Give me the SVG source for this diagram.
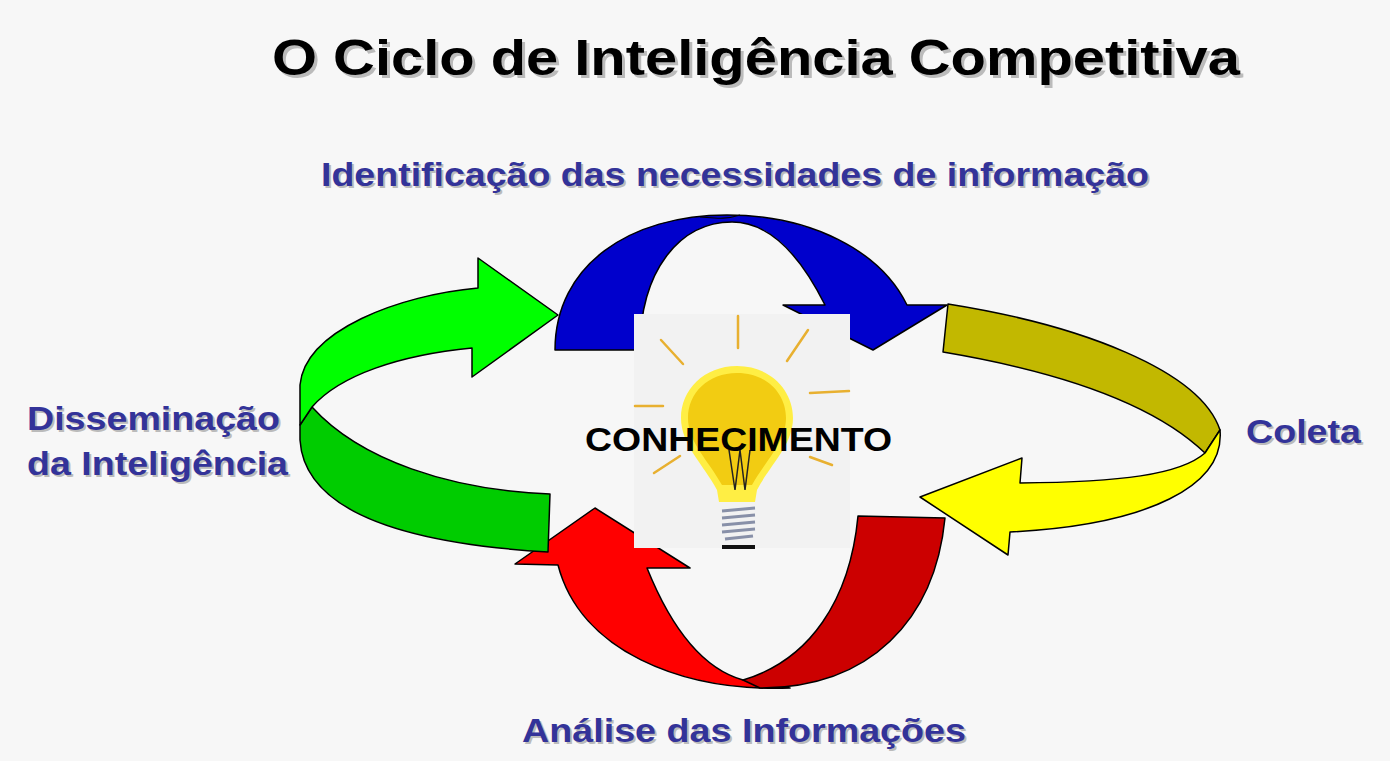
<svg xmlns="http://www.w3.org/2000/svg" width="1390" height="761" viewBox="0 0 1390 761">
<defs>
<style>
.t{font-family:"Liberation Sans",Arial,sans-serif;font-weight:bold}
.lab{fill:#333399;font-size:34px}
.sh{fill:#bbbbbb}
.ar{stroke:#000;stroke-width:1.5;stroke-linejoin:round}
.ray{stroke:#E8B030;stroke-width:2.5;stroke-linecap:round}
</style>
</defs>
<rect width="1390" height="761" fill="#F7F7F7"/>
<g id="title">
<text class="t sh" x="275" y="78" font-size="50" textLength="968" lengthAdjust="spacingAndGlyphs">O Ciclo de Inteligência Competitiva</text>
<text class="t" x="272" y="75" font-size="50" textLength="968" lengthAdjust="spacingAndGlyphs">O Ciclo de Inteligência Competitiva</text>
</g>
<g id="connectors">
<g id="blue">
<path class="ar" fill="#0000CC" d="M555,350 C555,265 630,215 727,215 C810,215 880,250 907,305 L947,305 L873,350 L783,305 L825,305 C800,255 770,222 732,222 C680,222 640,270 640,350 Z"/>
<path d="M700,217 C715,218 725,220 740,215" fill="none" stroke="#000" stroke-width="1.2"/>
</g>
<g id="olive-yellow">
<path class="ar" fill="#C2B800" d="M948,304 C1080,325 1200,370 1220,430 L1205,453 C1150,400 1050,370 943,352 Z"/>
<path class="ar" fill="#FFFF00" d="M1205,453 L1220,430 C1225,485 1150,525 1010,532 L1008,555 L920,497 L1022,458 L1020,483 C1120,482 1180,475 1205,453 Z"/>
</g>
<g id="red">
<path class="ar" fill="#FF0000" d="M558,565 L515,564 L595,508 L690,568 L647,568 C670,625 700,668 743,680 L790,688 C680,692 580,650 558,565 Z"/>
<path class="ar" fill="#CC0000" d="M858,516 L945,518 C935,620 870,688 760,688 L743,680 C810,660 850,600 858,516 Z"/>
</g>
<g id="green">
<path class="ar" fill="#00CC00" d="M312,407 C360,460 450,490 550,494 L548,552 C430,545 305,520 300,440 L300,425 Z"/>
<path class="ar" fill="#00FF00" d="M478,288 L478,258 L558,315 L472,377 L472,348 C400,355 340,375 312,407 L300,425 L300,385 C305,330 400,295 478,288 Z"/>
</g>
</g>
<g id="center">
<rect x="634" y="314" width="216" height="234" fill="#F2F2F2"/>
<g class="ray">
<line x1="738" y1="316" x2="738" y2="348"/>
<line x1="661" y1="340" x2="683" y2="364"/>
<line x1="808" y1="330" x2="787" y2="361"/>
<line x1="810" y1="393" x2="849" y2="391"/>
<line x1="635" y1="406" x2="663" y2="406"/>
<line x1="654" y1="473" x2="680" y2="456"/>
<line x1="810" y1="457" x2="832" y2="465"/>
</g>
<path d="M737,366 C770,366 793,390 793,418 C793,445 770,465 757,490 L755,502 L719,502 L717,490 C704,465 681,445 681,418 C681,390 704,366 737,366 Z" fill="#FFEE44"/>
<path d="M737,373 C766,373 786,393 786,418 C786,442 766,460 752,485 L722,485 C708,460 688,442 688,418 C688,393 708,373 737,373 Z" fill="#F2CC12"/>
<path d="M729,450 L735,490 L740,450 L745,490 L750,450" fill="none" stroke="#222" stroke-width="1.5"/>
<g stroke="#8890A8" stroke-width="3">
<line x1="722" y1="511" x2="755" y2="508"/>
<line x1="722" y1="518" x2="755" y2="515"/>
<line x1="722" y1="525" x2="755" y2="522"/>
<line x1="722" y1="532" x2="755" y2="529"/>
<line x1="725" y1="539" x2="753" y2="536"/>
</g>
<rect x="722" y="545" width="33" height="4" fill="#111"/>
<text class="t" x="585" y="451" font-size="33" textLength="307" lengthAdjust="spacingAndGlyphs">CONHECIMENTO</text>
</g>
<g id="label-top">
<text class="t sh" x="323" y="188" font-size="34" textLength="828" lengthAdjust="spacingAndGlyphs">Identificação das necessidades de informação</text>
<text class="t lab" x="321" y="186" textLength="828" lengthAdjust="spacingAndGlyphs">Identificação das necessidades de informação</text>
</g>
<g id="label-left">
<text class="t sh" x="29" y="432" font-size="34" textLength="253" lengthAdjust="spacingAndGlyphs">Disseminação</text>
<text class="t lab" x="27" y="430" textLength="253" lengthAdjust="spacingAndGlyphs">Disseminação</text>
<text class="t sh" x="29" y="477" font-size="34" textLength="261" lengthAdjust="spacingAndGlyphs">da Inteligência</text>
<text class="t lab" x="27" y="475" textLength="261" lengthAdjust="spacingAndGlyphs">da Inteligência</text>
</g>
<g id="label-right">
<text class="t sh" x="1248" y="445" font-size="34" textLength="115" lengthAdjust="spacingAndGlyphs">Coleta</text>
<text class="t lab" x="1246" y="443" textLength="115" lengthAdjust="spacingAndGlyphs">Coleta</text>
</g>
<g id="label-bottom">
<text class="t sh" x="524" y="744" font-size="34" textLength="444" lengthAdjust="spacingAndGlyphs">Análise das Informações</text>
<text class="t lab" x="522" y="742" textLength="444" lengthAdjust="spacingAndGlyphs">Análise das Informações</text>
</g>
</svg>
